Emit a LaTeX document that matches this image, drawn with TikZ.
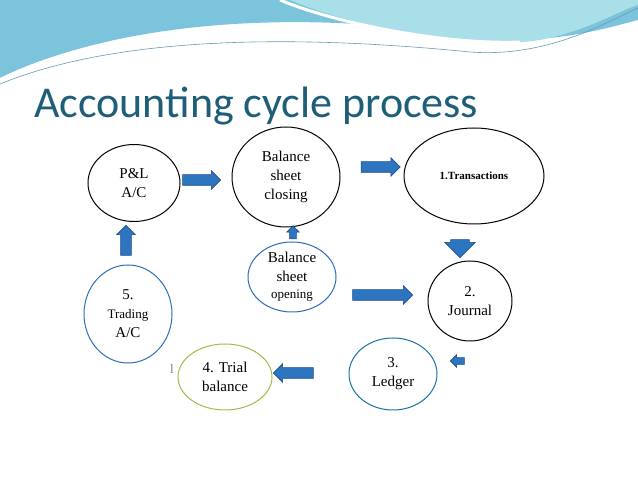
\documentclass[tikz,border=0pt]{standalone}
\usepackage{fontspec}
\setmainfont{Liberation Serif}
\newfontfamily\titlefont{Carlito}
\usetikzlibrary{shapes.arrows,shapes.geometric}
\definecolor{ttl}{HTML}{1D5E78}
\definecolor{arr}{HTML}{2E75C0}
\definecolor{arrd}{HTML}{1F4E8C}
\definecolor{wave1}{HTML}{7CC4DC}
\definecolor{wave2}{HTML}{A8DFE8}
\definecolor{olive}{HTML}{A6B94A}
\definecolor{bl}{HTML}{2A6EBB}
\tikzset{
  el/.style={draw=black,line width=1pt,ellipse,inner sep=0pt,align=center,font=\fontsize{15}{19}\selectfont},
  blk/.style={single arrow,draw=arrd,fill=arr,line width=0.6pt,single arrow head extend=4pt,inner xsep=0pt,inner ysep=5pt,minimum height=#1},
}
\begin{document}
\begin{tikzpicture}[x=1pt,y=-1pt]
\useasboundingbox (0,0) rectangle (638,478);
\fill[white] (0,0) rectangle (638,478);
% waves
\fill[wave1] (0,0) -- (0,78) .. controls (120,20) and (300,10) .. (460,35) .. controls (540,48) and (600,30) .. (638,20) -- (638,0) -- cycle;
\fill[wave2] (290,0) .. controls (360,30) and (480,50) .. (540,40) .. controls (590,30) and (620,10) .. (638,5) -- (638,0) -- cycle;
\draw[white,line width=3pt] (280,0) .. controls (340,25) and (450,45) .. (520,42);
\fill[white] (0,78) .. controls (100,30) and (230,20) .. (400,42) .. controls (300,32) and (150,35) .. (0,80) -- cycle;
\draw[wave1!80!black,line width=0.6pt] (0,84) .. controls (120,35) and (300,35) .. (470,52) .. controls (550,58) and (610,20) .. (638,8);
\fill[white] (0,87) .. controls (150,38) and (320,45) .. (480,60) .. controls (560,62) and (610,40) .. (638,30) -- (638,478) -- (0,478) -- cycle;
% title
\node[anchor=base west,inner sep=0pt,text=ttl,font=\titlefont\fontsize{44}{48}\selectfont] (title) at (34,118) {Accounting cycle process};
% nodes
\node[el,minimum width=92,minimum height=77] (pl) at (134,183) {P\&L\\A/C};
\node[el,minimum width=108,minimum height=100] (bsc) at (286,177) {Balance\\sheet\\closing};
\node[el,minimum width=140,minimum height=96,font=\bfseries\fontsize{11}{13}\selectfont] (tr) at (474,176) {1.Transactions};
\node[el,draw=bl,minimum width=88,minimum height=70] (bso) at (292,277) {Balance\\sheet\\[-2pt]{\fontsize{13}{15}\selectfont opening}};
\node[el,draw=bl,minimum width=88,minimum height=98] (ta) at (128,314) {5.\\{\fontsize{13}{17}\selectfont Trading}\\A/C};
\node[el,minimum width=84,minimum height=80] (jo) at (470,301) {2.\\Journal};
\node[el,draw=bl!60!teal,minimum width=88,minimum height=72] (le) at (393,374) {3.\\Ledger};
\node[el,draw=olive,minimum width=94,minimum height=66] (tb) at (225,377) {4. Trial\\balance};
\node[text=gray,font=\fontsize{13}{15}\selectfont] (l) at (172,369) {l};
% arrows
\node[blk=38] (a1) at (199,180) {};
\node[blk=39] (a2) at (378,167) {};
\node[blk=18,inner ysep=9pt,single arrow head extend=6pt,rotate=-90] (a3) at (460,244) {};
\node[blk=14,inner ysep=3pt,single arrow head extend=3pt,rotate=180] (a4) at (459,361) {};
\node[blk=40,rotate=180] (a5) at (296,373) {};
\node[blk=30,rotate=90] (a6) at (126,243) {};
\node[blk=13,inner ysep=3pt,single arrow head extend=3pt,rotate=90] (a7) at (293,234) {};
\node[blk=60] (a8) at (380,295) {};
\end{tikzpicture}
\end{document}
